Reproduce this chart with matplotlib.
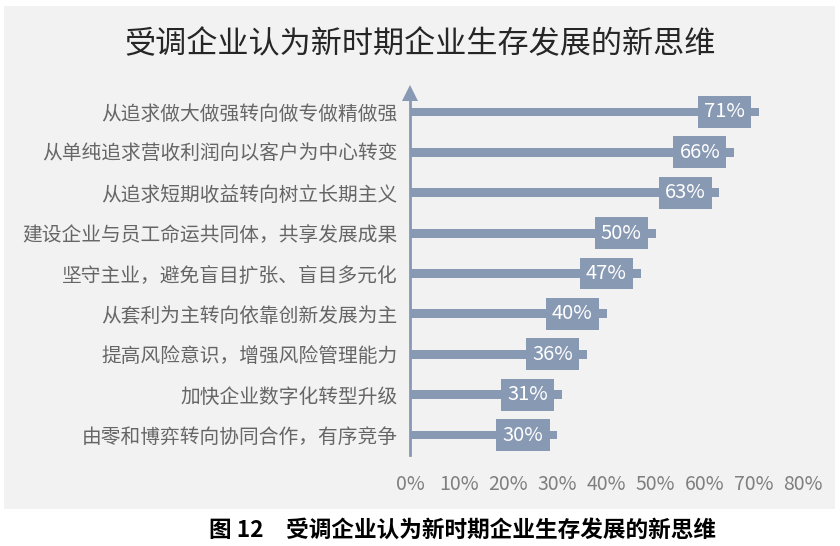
import matplotlib
matplotlib.use("Agg")
import matplotlib.pyplot as plt
from matplotlib.patches import Rectangle

plt.rcParams['font.family'] = ['Noto Sans CJK SC', 'DejaVu Sans']

title = "受调企业认为新时期企业生存发展的新思维"
caption = "图 12　受调企业认为新时期企业生存发展的新思维"
categories = [
    "从追求做大做强转向做专做精做强",
    "从单纯追求营收利润向以客户为中心转变",
    "从追求短期收益转向树立长期主义",
    "建设企业与员工命运共同体，共享发展成果",
    "坚守主业，避免盲目扩张、盲目多元化",
    "从套利为主转向依靠创新发展为主",
    "提高风险意识，增强风险管理能力",
    "加快企业数字化转型升级",
    "由零和博弈转向协同合作，有序竞争",
]
values = [71, 66, 63, 50, 47, 40, 36, 31, 30]
xticks = [0, 10, 20, 30, 40, 50, 60, 70, 80]
xticklabels = ["0%", "10%", "20%", "30%", "40%", "50%", "60%", "70%", "80%"]

W, H = 840, 546
fig = plt.figure(figsize=(W / 100, H / 100), dpi=100)
fig.patch.set_facecolor("white")

# grey panel
panel = Rectangle((4 / W, 1 - 509 / H), (835 - 4) / W, (509 - 6) / H,
                  transform=fig.transFigure, facecolor="#f2f2f2",
                  edgecolor="none", zorder=-10)
fig.add_artist(panel)

ax_left, ax_right = 410, 803
ax_top, ax_bot = 93, 455
ax = fig.add_axes([ax_left / W, 1 - ax_bot / H, (ax_right - ax_left) / W, (ax_bot - ax_top) / H])
ax.set_facecolor("none")
ax.set_zorder(1)

n = len(categories)
ys = list(range(n - 1, -1, -1))
bar_color = "#8899b3"
ax.barh(ys, values, height=0.22, color=bar_color, zorder=2)

box_w = 10.8
offs = 7.0
ax.barh(ys, [box_w] * n, left=[v - offs - box_w / 2 for v in values], height=0.79,
        color=bar_color, zorder=3)
for y, v in zip(ys, values):
    ax.text(v - offs, y, f"{v}%", ha="center", va="center", color="white",
            fontsize=14.5, zorder=4)

ax.set_xlim(0, 80)
ax.set_ylim(-0.495, n - 1 + 0.47)
ax.set_xticks(xticks)
ax.set_xticklabels(xticklabels, fontsize=14, color="#7f7f7f")
ax.set_yticks(ys)
ax.set_yticklabels(categories, fontsize=14.2, color="#666666")
ax.tick_params(axis="both", length=0)
ax.tick_params(axis="x", pad=14)
ax.tick_params(axis="y", pad=9)
for s in ["top", "right", "bottom"]:
    ax.spines[s].set_visible(False)
ax.spines["left"].set_color(bar_color)
ax.spines["left"].set_linewidth(2)
ax.spines["left"].set_zorder(5)
ax.plot([0], [n - 1 + 0.47], marker="^", markersize=11, color=bar_color,
        clip_on=False, zorder=6, markeredgewidth=0)

fig.text(0.5, 1 - 45 / H, title, ha="center", va="center", fontsize=22.4, color="#262626")
fig.text(462 / W, 1 - 530 / H, caption, ha="center", va="center", fontsize=16.3,
         color="black", fontweight="bold")

fig.savefig("out.png", dpi=100, facecolor="white")
